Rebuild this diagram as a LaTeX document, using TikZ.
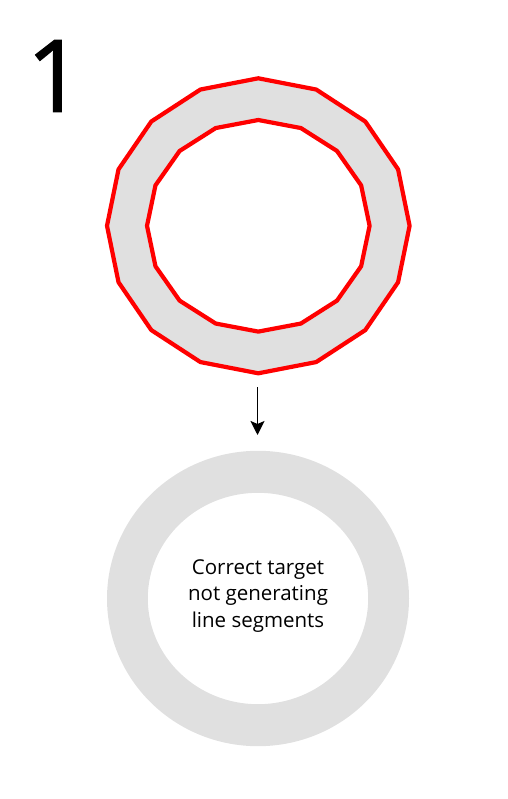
\documentclass[tikz,border=0pt]{standalone}
\usepackage{fontspec}
\setmainfont{Open Sans}
\newfontfamily\numfont{Open Sans}[FakeBold=1.2]
\usetikzlibrary{arrows.meta,calc}
\definecolor{ringgray}{HTML}{E0E0E0}
\definecolor{ringred}{HTML}{FF0000}
\tikzset{
  polyring/.style={fill=ringgray, draw=ringred, line width=4.2pt, line join=round, even odd rule},
  flowarrow/.style={draw=black, line width=1.8pt, -{Stealth[length=14pt,width=14pt,inset=3pt]}},
  label/.style={font=\fontsize{20.5}{26.5}\selectfont, align=center, text=black, inner sep=0pt},
  bignum/.style={font=\numfont\fontsize{100}{100}\selectfont, text=black, inner sep=0pt}
}
\begin{document}
\begin{tikzpicture}[x=1pt,y=-1pt]
\useasboundingbox (0,0) rectangle (507,799);
% number
\node[bignum] (num) at (55,76) {1};
% polygon ring (16-gon)
\coordinate (pc) at (258.3,225.8);
\path[polyring] ($(pc)+(0:151.3 and 147.5)$) \foreach \a in {22.5,45,...,337.5}{ -- ($(pc)+(\a:151.3 and 147.5)$)} -- cycle
  ($(pc)+(0:111.3 and 105.8)$) \foreach \a in {22.5,45,...,337.5}{ -- ($(pc)+(\a:111.3 and 105.8)$)} -- cycle;
% arrow
\coordinate (a1) at (257.5,387);
\coordinate (a2) at (257.5,435);
\draw[flowarrow] (a1) -- (a2);
% smooth ring
\coordinate (cc) at (258,598.5);
\fill[ringgray, even odd rule] (cc) ellipse [x radius=151, y radius=147.7] (cc) ellipse [x radius=110.2, y radius=105.7];
\node[label] (txt) at (258,596) {Correct target\\not generating\\line segments};
\end{tikzpicture}
\end{document}
